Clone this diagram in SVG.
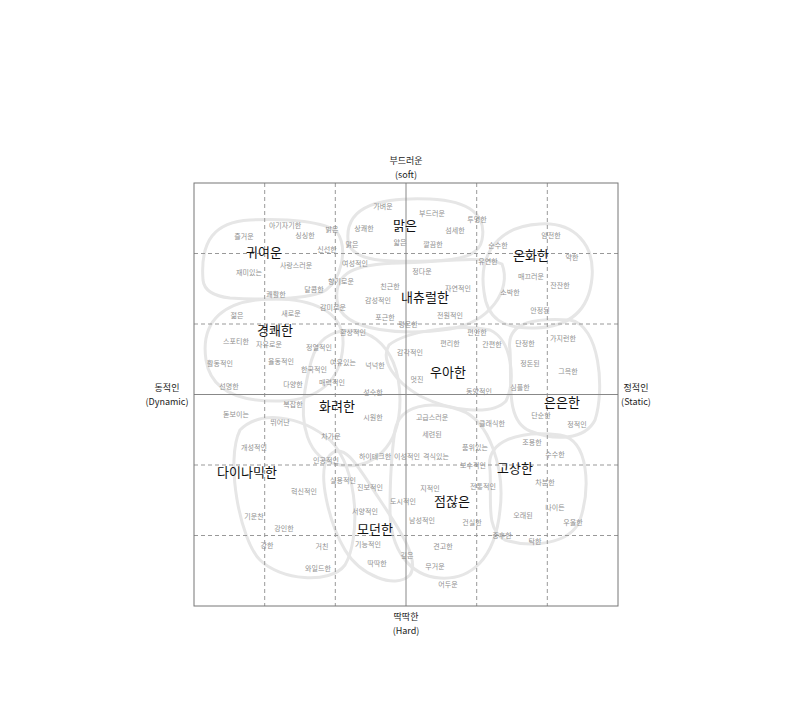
<svg xmlns="http://www.w3.org/2000/svg" width="800" height="714" viewBox="0 0 800 714">
<style>
.bg{fill:#fff}
.frame{fill:none;stroke:#777;stroke-width:1}
.dash{stroke:#999;stroke-width:1;stroke-dasharray:4,3}
.axis{stroke:#888;stroke-width:1}
.blob{fill:none;stroke:#e6e6e6;stroke-width:3}
.w{font-family:"Noto Sans CJK KR","Noto Sans",sans-serif;font-size:7px;fill:#909090;text-anchor:middle;dominant-baseline:middle}
.k{font-family:"Noto Sans CJK KR","Noto Sans",sans-serif;font-size:13px;fill:#111;text-anchor:middle;dominant-baseline:middle}
.ax{font-family:"Noto Sans CJK KR","Noto Sans",sans-serif;font-size:9px;fill:#222;text-anchor:middle;dominant-baseline:middle}
</style>
<rect class="bg" x="0" y="0" width="800" height="714"/>
<g id="blobs">
<path class="blob" d="M348,240 C345,205 382,197 430,199 C470,201 487,215 482,240 C479,256 460,260 430,261 C390,262 350,263 348,240 Z"/>
<path class="blob" d="M203,280 C200,240 215,222 250,220 C290,218 325,222 337,232 C349,250 340,280 326,290 C310,300 260,300 230,298 C212,296 204,290 203,280 Z"/>
<path class="blob" d="M337,300 C334,272 355,264 400,263 C440,262 482,255 502,264 C512,290 490,322 450,329 C410,335 340,334 337,300 Z"/>
<path class="blob" d="M484,292 C478,252 500,226 540,224 C575,222 595,245 592,278 C589,310 570,327 535,328 C502,329 487,318 484,292 Z"/>
<path class="blob" d="M206,360 C200,320 225,300 270,299 C310,298 345,310 343,345 C341,380 320,400 280,401 C240,402 211,392 206,360 Z"/>
<path class="blob" d="M389,345 C408,330 460,324 490,330 C512,340 516,380 506,401 C492,416 450,411 420,396 C394,381 380,360 389,345 Z"/>
<path class="blob" d="M510,350 C505,320 540,318 570,320 C600,325 605,390 595,420 C585,440 555,441 530,431 C505,421 512,380 510,350 Z"/>
<path class="blob" d="M330,335 C360,320 400,340 400,400 C400,450 370,470 340,465 C305,460 300,420 305,390 C310,360 315,342 330,335 Z"/>
<path class="blob" d="M240,430 C260,410 300,415 330,440 C360,470 360,540 345,565 C330,585 280,580 260,560 C240,540 225,460 240,430 Z"/>
<path class="blob" d="M490,470 C485,440 520,430 560,435 C590,440 590,490 580,520 C570,545 530,548 505,540 C485,530 492,500 490,470 Z"/>
<path class="blob" d="M395,430 C400,405 430,400 460,410 C490,420 505,470 500,510 C495,560 470,580 440,578 C410,576 390,550 390,510 C390,480 392,450 395,430 Z"/>
<path class="blob" d="M330,455 C345,440 360,470 380,500 C400,530 420,560 410,575 C395,590 360,575 345,550 C330,525 315,470 330,455 Z"/>
</g>
<g id="grid">
<line class="dash" x1="264.7" y1="183" x2="264.7" y2="606"/>
<line class="dash" x1="335.3" y1="183" x2="335.3" y2="606"/>
<line class="dash" x1="476.7" y1="183" x2="476.7" y2="606"/>
<line class="dash" x1="547.3" y1="183" x2="547.3" y2="606"/>
<line class="dash" x1="194" y1="253.5" x2="618" y2="253.5"/>
<line class="dash" x1="194" y1="324" x2="618" y2="324"/>
<line class="dash" x1="194" y1="465" x2="618" y2="465"/>
<line class="dash" x1="194" y1="535.5" x2="618" y2="535.5"/>
<line class="axis" x1="406" y1="183" x2="406" y2="606"/>
<line class="axis" x1="194" y1="394.5" x2="618" y2="394.5"/>
<rect class="frame" x="194" y="183" width="424" height="423"/>
</g>
<g id="axis-labels">
<text class="ax" x="406" y="162">부드러운</text>
<text class="ax" x="406" y="176">(soft)</text>
<text class="ax" x="406" y="618">딱딱한</text>
<text class="ax" x="406" y="632">(Hard)</text>
<text class="ax" x="167" y="389">동적인</text>
<text class="ax" x="167" y="403">(Dynamic)</text>
<text class="ax" x="636" y="389">정적인</text>
<text class="ax" x="636" y="403">(Static)</text>
</g>
<g id="words">
<text class="w" x="285" y="226">아기자기한</text>
<text class="w" x="244" y="237">즐거운</text>
<text class="w" x="305" y="236">싱싱한</text>
<text class="w" x="332" y="230">밝은</text>
<text class="w" x="327" y="250">신선한</text>
<text class="w" x="296" y="266">사랑스러운</text>
<text class="w" x="249" y="273">재미있는</text>
<text class="w" x="341" y="282">향기로운</text>
<text class="w" x="314" y="290">달콤한</text>
<text class="w" x="276" y="295">쾌활한</text>
<text class="w" x="333" y="308">감미로운</text>
<text class="w" x="237" y="316">젊은</text>
<text class="w" x="291" y="314">새로운</text>
<text class="w" x="383" y="207">가벼운</text>
<text class="w" x="432" y="214">부드러운</text>
<text class="w" x="477" y="220">투명한</text>
<text class="w" x="364" y="229">상쾌한</text>
<text class="w" x="455" y="231">섬세한</text>
<text class="w" x="352" y="245">맑은</text>
<text class="w" x="400" y="243">얇은</text>
<text class="w" x="433" y="245">깔끔한</text>
<text class="w" x="355" y="264">여성적인</text>
<text class="w" x="422" y="272">정다운</text>
<text class="w" x="390" y="287">친근한</text>
<text class="w" x="458" y="289">자연적인</text>
<text class="w" x="378" y="301">감성적인</text>
<text class="w" x="385" y="318">포근한</text>
<text class="w" x="450" y="316">전원적인</text>
<text class="w" x="408" y="325">평온한</text>
<text class="w" x="498" y="246">순수한</text>
<text class="w" x="551" y="236">얌전한</text>
<text class="w" x="488" y="262">유연한</text>
<text class="w" x="572" y="258">약한</text>
<text class="w" x="531" y="277">매끄러운</text>
<text class="w" x="510" y="293">소박한</text>
<text class="w" x="560" y="286">잔잔한</text>
<text class="w" x="540" y="311">안정된</text>
<text class="w" x="236" y="342">스포티한</text>
<text class="w" x="269" y="345">자유로운</text>
<text class="w" x="319" y="348">정열적인</text>
<text class="w" x="220" y="364">활동적인</text>
<text class="w" x="281" y="362">율동적인</text>
<text class="w" x="314" y="370">한국적인</text>
<text class="w" x="343" y="363">여유있는</text>
<text class="w" x="229" y="387">선명한</text>
<text class="w" x="293" y="385">다양한</text>
<text class="w" x="332" y="383">매력적인</text>
<text class="w" x="353" y="333">환상적인</text>
<text class="w" x="375" y="366">넉넉한</text>
<text class="w" x="410" y="353">감각적인</text>
<text class="w" x="450" y="344">편리한</text>
<text class="w" x="477" y="333">편안한</text>
<text class="w" x="417" y="380">멋진</text>
<text class="w" x="373" y="393">성숙한</text>
<text class="w" x="479" y="392">동양적인</text>
<text class="w" x="492" y="345">간편한</text>
<text class="w" x="525" y="344">단정한</text>
<text class="w" x="563" y="339">가지런한</text>
<text class="w" x="530" y="364">정돈된</text>
<text class="w" x="568" y="372">그윽한</text>
<text class="w" x="520" y="388">심플한</text>
<text class="w" x="293" y="405">복잡한</text>
<text class="w" x="236" y="415">돋보이는</text>
<text class="w" x="280" y="423">뛰어난</text>
<text class="w" x="373" y="418">시원한</text>
<text class="w" x="432" y="418">고급스러운</text>
<text class="w" x="541" y="416">단순한</text>
<text class="w" x="492" y="424">클래식한</text>
<text class="w" x="577" y="425">정적인</text>
<text class="w" x="432" y="435">세련된</text>
<text class="w" x="331" y="437">차가운</text>
<text class="w" x="254" y="448">개성적인</text>
<text class="w" x="532" y="443">조용한</text>
<text class="w" x="555" y="455">수수한</text>
<text class="w" x="475" y="448">품위있는</text>
<text class="w" x="375" y="457">하이테크한</text>
<text class="w" x="407" y="457">이성적인</text>
<text class="w" x="436" y="457">격식있는</text>
<text class="w" x="326" y="461">인공적인</text>
<text class="w" x="473" y="466">보수적인</text>
<text class="w" x="343" y="481">실용적인</text>
<text class="w" x="370" y="488">진보적인</text>
<text class="w" x="304" y="492">혁신적인</text>
<text class="w" x="430" y="489">지적인</text>
<text class="w" x="483" y="487">전통적인</text>
<text class="w" x="403" y="502">도시적인</text>
<text class="w" x="545" y="483">차분한</text>
<text class="w" x="365" y="512">서양적인</text>
<text class="w" x="422" y="521">남성적인</text>
<text class="w" x="555" y="508">나이든</text>
<text class="w" x="523" y="516">오래된</text>
<text class="w" x="573" y="523">우울한</text>
<text class="w" x="254" y="517">기운찬</text>
<text class="w" x="284" y="529">강인한</text>
<text class="w" x="267" y="546">강한</text>
<text class="w" x="322" y="547">거친</text>
<text class="w" x="318" y="569">와일드한</text>
<text class="w" x="472" y="523">건실한</text>
<text class="w" x="368" y="545">기능적인</text>
<text class="w" x="443" y="547">견고한</text>
<text class="w" x="502" y="536">중후한</text>
<text class="w" x="535" y="542">탁한</text>
<text class="w" x="407" y="556">깊은</text>
<text class="w" x="377" y="564">딱딱한</text>
<text class="w" x="435" y="567">무거운</text>
<text class="w" x="448" y="585">어두운</text>
</g>
<g id="keywords">
<text class="k" x="405" y="226">맑은</text>
<text class="k" x="264" y="253">귀여운</text>
<text class="k" x="531" y="256">온화한</text>
<text class="k" x="425" y="298">내츄럴한</text>
<text class="k" x="275" y="331">경쾌한</text>
<text class="k" x="448" y="373">우아한</text>
<text class="k" x="337" y="407">화려한</text>
<text class="k" x="562" y="403">은은한</text>
<text class="k" x="247" y="473">다이나믹한</text>
<text class="k" x="515" y="469">고상한</text>
<text class="k" x="452" y="502">점잖은</text>
<text class="k" x="375" y="530">모던한</text>
</g>
</svg>
